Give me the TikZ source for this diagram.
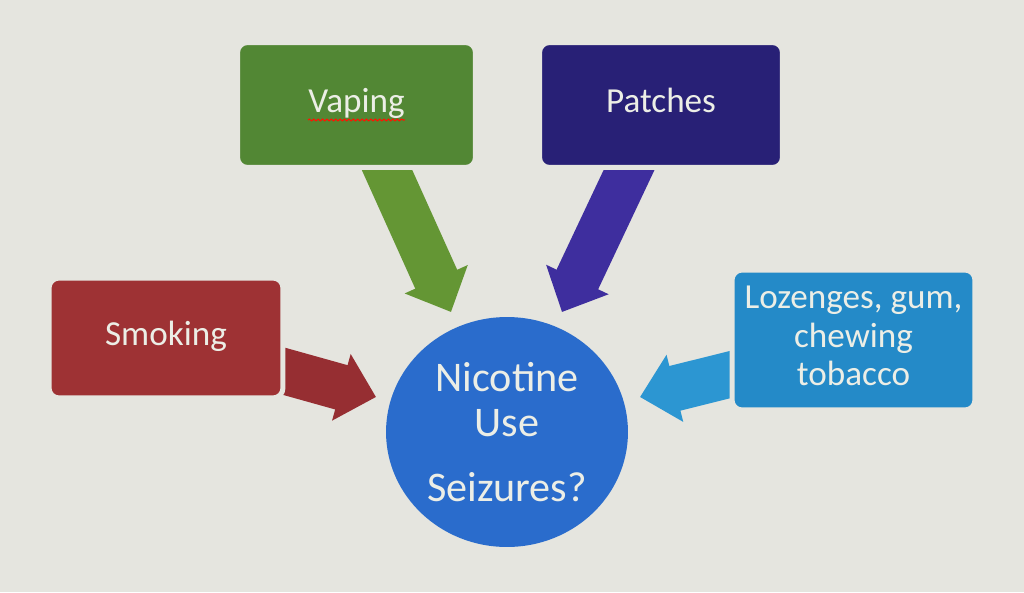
\documentclass[tikz,border=0pt]{standalone}
\usepackage{fontspec}
\setmainfont{Carlito}
\usetikzlibrary{shapes.geometric,arrows.meta,decorations.pathmorphing}
\definecolor{slide}{RGB}{229,229,223}
\definecolor{boxtext}{RGB}{236,238,230}
\definecolor{vapegreen}{RGB}{82,135,52}
\definecolor{vapearrow}{RGB}{100,150,52}
\definecolor{patchblue}{RGB}{40,32,118}
\definecolor{patcharrow}{RGB}{62,46,158}
\definecolor{smokered}{RGB}{158,50,52}
\definecolor{smokearrow}{RGB}{150,46,50}
\definecolor{lozblue}{RGB}{36,138,200}
\definecolor{lozarrow}{RGB}{44,150,210}
\definecolor{nicblue}{RGB}{42,108,204}
\pgfdeclarelayer{back}
\pgfdeclarelayer{arrowlayer}
\pgfsetlayers{back,arrowlayer,main}

\begin{document}
\begin{tikzpicture}[x=0.02cm,y=-0.02cm,
    box/.style={rectangle,rounded corners=0.2cm,draw=slide,line width=0.1cm,inner sep=0pt,text depth=0.17cm,
        text=boxtext,align=center,font=\fontsize{20}{22}\selectfont},
    fat/.style={line width=0.92cm,-{Triangle[width=1.34cm,length=0.72cm]}}]
    \useasboundingbox (0,0) rectangle (1024,592);
    \node[box,fill=vapegreen,minimum width=4.76cm,minimum height=2.5cm] (vaping) at (356.5,105) {Vaping};
    \node[box,fill=patchblue,minimum width=4.86cm,minimum height=2.5cm] (patches) at (661,105) {Patches};
    \node[box,fill=smokered,minimum width=4.68cm,minimum height=2.4cm] (smoking) at (166,338) {Smoking};
    \node[box,fill=lozblue,minimum width=4.86cm,minimum height=2.8cm] (lozenges) at (853.5,340) {Lozenges, gum,\\chewing\\tobacco};
    \node[ellipse,fill=nicblue,minimum width=4.84cm,minimum height=4.6cm,inner sep=0pt,text=boxtext,
        align=center,font=\fontsize{24}{26}\selectfont] (nic) at (507,432) {Nicotine\\Use\\[0.38cm]Seizures?};
    \draw[red!85!orange,line width=0.6pt,decorate,decoration={snake,amplitude=0.5pt,segment length=2.5pt}]
        ([xshift=-0.97cm,yshift=-0.3cm]vaping.center) -- ([xshift=0.97cm,yshift=-0.3cm]vaping.center);
    \begin{pgfonlayer}{back}
        \fill[slide] (0,0) rectangle (1024,592);
    \end{pgfonlayer}
    \begin{pgfonlayer}{arrowlayer}
        \draw[fat,vapearrow] ([xshift=0.43cm,yshift=0.4cm]vaping.south) -- ([xshift=-1.12cm,yshift=2.4cm]nic.center);
        \draw[fat,patcharrow] ([xshift=-0.45cm,yshift=0.4cm]patches.south) -- ([xshift=1.1cm,yshift=2.4cm]nic.center);
        \draw[fat,smokearrow] ([xshift=-0.3cm,yshift=-0.59cm]smoking.east) -- ([xshift=-2.62cm,yshift=0.7cm]nic.center);
        \draw[fat,lozarrow] ([xshift=0.3cm,yshift=-0.62cm]lozenges.west) -- ([xshift=2.66cm,yshift=0.7cm]nic.center);
    \end{pgfonlayer}
\end{tikzpicture}
\end{document}
